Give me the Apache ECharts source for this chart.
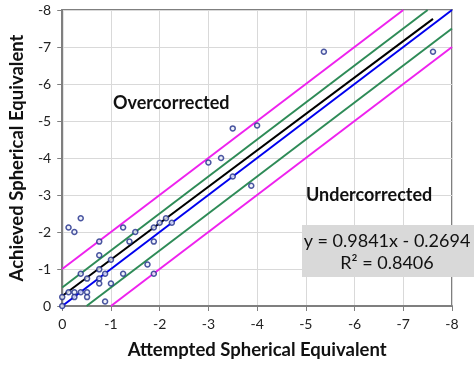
<!DOCTYPE html>
<html><head><meta charset="utf-8">
<script src="https://cdn.jsdelivr.net/npm/echarts@6/dist/echarts.min.js"></script>
<style>html,body{margin:0;padding:0;background:#fff}#c{width:474px;height:365px}</style>
</head><body><div id="c"></div>
<script>
// Data: attempted (x) vs achieved (y) spherical equivalent
const attempted = [0, 0, -0.13, -0.25, -0.38, -0.51, -0.25, -0.51, -0.88,
  -0.13, -0.25, -0.38, -0.76, -0.76, -1.0, -0.38, -0.51, -0.76, -0.76, -0.76, -0.88, -1.0,
  -1.25, -1.5, -1.38, -1.88, -2.0, -2.13, -2.25, -1.88, -1.75, -1.25, -1.88,
  -3.5, -4.0, -3.0, -3.26, -3.5, -3.88, -5.37, -7.61];
const achieved = [0, -0.24, -0.37, -0.37, -0.37, -0.37, -0.24, -0.24, -0.12,
  -2.12, -2.0, -2.37, -1.74, -1.37, -1.25, -0.87, -0.74, -0.99, -0.74, -0.61, -0.87, -0.61,
  -2.12, -2.0, -1.74, -2.12, -2.25, -2.37, -2.25, -1.74, -1.12, -0.87, -0.87,
  -4.8, -4.88, -3.88, -4.0, -3.5, -3.25, -6.87, -6.87];
const identityLine = [[0, 0], [-8, -8]];
const regressionLine = [[0, -0.27], [-7.61, -7.76]];
const greenUpper = [[0, -0.5], [-7.5, -8]];
const greenLower = [[-0.5, 0], [-8, -7.5]];
const magentaUpper = [[0, -1], [-7, -8]];
const magentaLower = [[-1, 0], [-8, -7]];
const xTitle = 'Attempted Spherical Equivalent';
const yTitle = 'Achieved Spherical Equivalent';
const eqText = 'y = 0.9841x - 0.2694';
const r2Text = 'R² = 0.8406';

const font = 'Lato, "Open Sans", sans-serif';
const chart = echarts.init(document.getElementById('c'), null, {renderer: 'canvas'});
const axisCommon = {
  type: 'value', min: -8, max: 0, interval: 1, inverse: true,
  axisLine: {show: true, onZero: false, lineStyle: {color: '#7f7f7f', width: 2}},
  axisTick: {show: true, length: 5, lineStyle: {color: '#7f7f7f', width: 1}},
  splitLine: {show: true, lineStyle: {color: '#d9d9d9', width: 1}},
  axisLabel: {color: '#222', fontSize: 14, fontFamily: font, margin: 11},
  nameLocation: 'middle',
  nameTextStyle: {color: '#111', fontSize: 18.5, fontWeight: 'bold', fontFamily: font}
};
function lineSeries(data, color, z) {
  return {type: 'line', data: data, symbol: 'none', silent: true, z: z,
    lineStyle: {color: color, width: 2}, animation: false};
}
chart.setOption({
  animation: false,
  grid: {left: 58, right: 22, top: 10, bottom: 58, show: true, borderColor: '#7f7f7f', borderWidth: 2, backgroundColor: 'transparent'},
  xAxis: Object.assign({}, axisCommon, {name: xTitle, nameGap: 35}),
  yAxis: Object.assign({}, axisCommon, {name: yTitle, nameGap: 29}),
  series: [
    lineSeries(magentaUpper, '#ee22ee', 2),
    lineSeries(magentaLower, '#ee22ee', 2),
    lineSeries(greenUpper, '#2e8b57', 2),
    lineSeries(greenLower, '#2e8b57', 2),
    lineSeries(regressionLine, '#000000', 3),
    lineSeries(identityLine, '#0000ee', 3),
    {type: 'scatter', data: attempted.map((x, i) => [x, achieved[i]]), symbol: 'circle', symbolSize: 5, z: 5,
      itemStyle: {color: '#eef1fa', borderColor: '#1f2d8a', borderWidth: 1.5}}
  ],
  graphic: [
    {type: 'text', x: 113, y: 103, z: 10, style: {text: 'Overcorrected', font: 'bold 18px ' + font, fill: '#111', textVerticalAlign: 'middle'}},
    {type: 'text', x: 306, y: 195, z: 10, style: {text: 'Undercorrected', font: 'bold 18px ' + font, fill: '#111', textVerticalAlign: 'middle'}},
    {type: 'rect', x: 302, y: 225, z: 10, shape: {width: 172, height: 52}, style: {fill: '#d9d9d9'}},
    {type: 'text', x: 387, y: 241, z: 11, style: {text: eqText, font: '18px ' + font, fill: '#111', textAlign: 'center', textVerticalAlign: 'middle'}},
    {type: 'text', x: 387, y: 263, z: 11, style: {text: r2Text, font: '18px ' + font, fill: '#111', textAlign: 'center', textVerticalAlign: 'middle'}}
  ]
});
</script></body></html>
